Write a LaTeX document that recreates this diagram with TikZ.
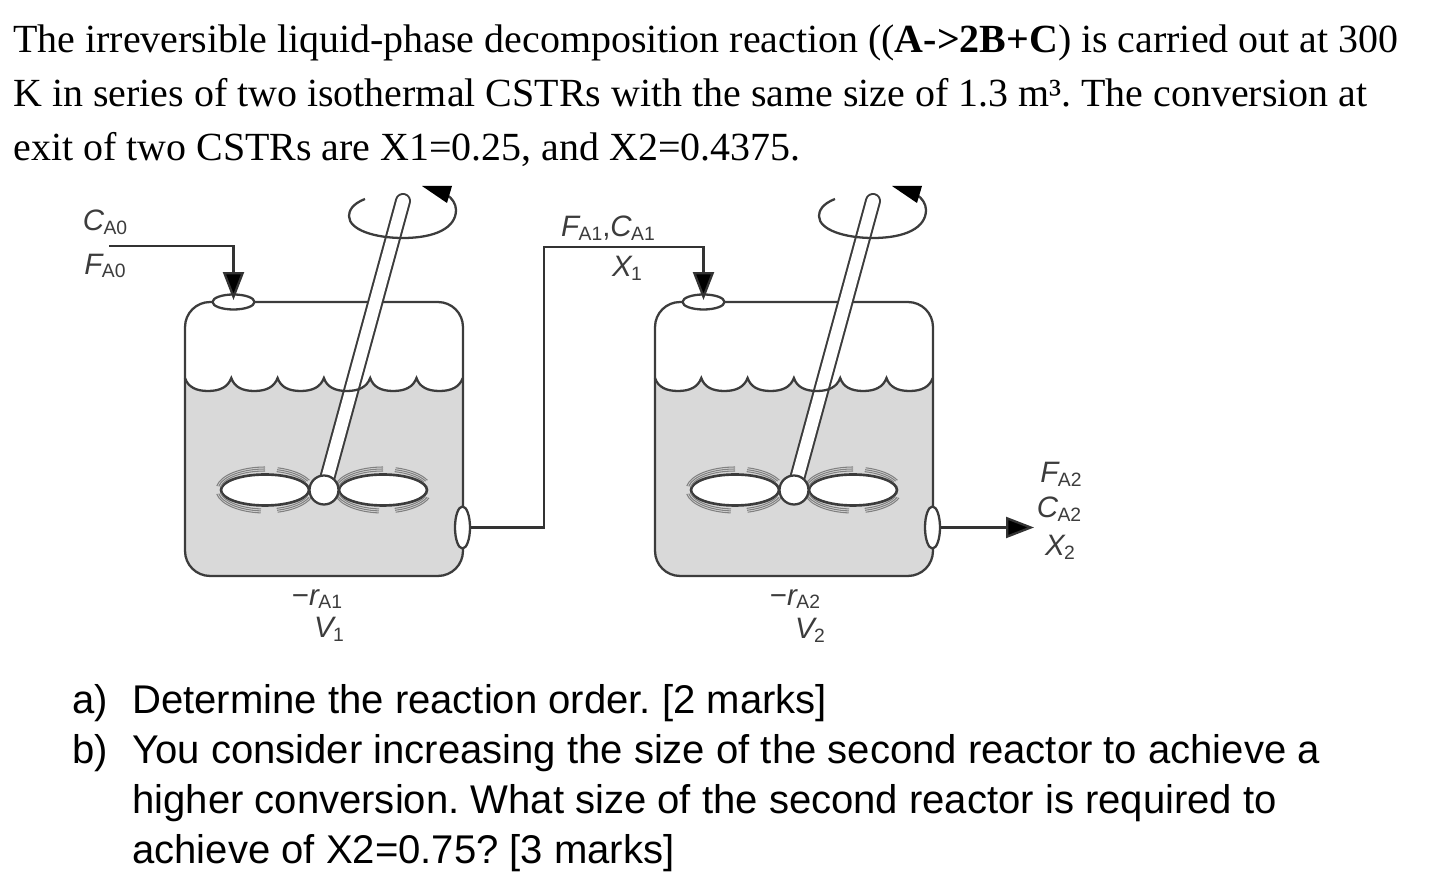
\documentclass[tikz,border=0pt]{standalone}
\usepackage{fontspec}
\setmainfont{Liberation Serif}
\setsansfont{Liberation Sans}
\usetikzlibrary{shapes.geometric,arrows.meta}
\definecolor{inkgray}{HTML}{3C3C3C}
\definecolor{liquidgray}{HTML}{D9D9D9}
\newcommand{\flowsub}[2]{{\itshape #1}\kern-.02em\raisebox{-.13em}{\fontsize{11pt}{11pt}\selectfont #2}}
\frenchspacing
\begin{document}
\begin{tikzpicture}[x=.02cm,y=-.02cm]
\tikzstyle{every node} = [inner sep=0pt]
\tikzstyle{serifline} = [anchor=base west, font=\fontsize{22.73pt}{26pt}\selectfont]
\tikzstyle{sansline} = [anchor=base west, font=\sffamily\fontsize{22.8pt}{26pt}\selectfont]
\tikzstyle{flowlabel} = [text=inkgray, font=\sffamily\fontsize{16.8pt}{20pt}\selectfont]
\tikzstyle{tankbox} = [rectangle, draw=inkgray, line width=1.3pt, rounded corners=.5cm, minimum width=5.56cm, minimum height=5.48cm]
\tikzstyle{port} = [ellipse, draw=inkgray, line width=1.3pt, fill=white]
\tikzstyle{lobe} = [ellipse, draw=inkgray, line width=1.5pt, fill=white, minimum width=1.76cm, minimum height=.62cm]
\tikzstyle{hub} = [circle, draw=inkgray, line width=1.3pt, fill=white, minimum size=.58cm]
\tikzstyle{sweep} = [draw=gray, line width=.6pt]
\tikzstyle{flow} = [draw=black!80, line width=1.3pt, -{Triangle[length=.56cm,width=.42cm,fill=black]}]
\useasboundingbox (0,0) rectangle (1434,884);
\node[serifline] (line1) at (13,53) {The irreversible liquid-phase decomposition reaction ((\textbf{A->2B+C}) is carried out at 300};
\node[serifline] (line2) at (13,107) {K in series of two isothermal CSTRs with the same size of 1.3 m³. The conversion at};
\node[serifline] (line3) at (13,161) {exit of two CSTRs are X1=0.25, and X2=0.4375.};
\foreach \n/\dx in {1/0,2/470}{
\begin{scope}[shift={(\dx,0)}]
\fill[liquidgray] (185,378) foreach \k in {0,...,5} { .. controls ({185+46.3*\k+3},387) and ({185+46.3*\k+11},391) .. ({185+46.3*\k+23},391) .. controls ({185+46.3*\k+35},391) and ({185+46.3*\k+43},387) .. ({185+46.3*(\k+1)},378) } [rounded corners=.5cm] -- (463,576) -- (185,576) -- (185,378);
\node[tankbox] (tank\n) at (324,439) {};
\draw[line width=.32cm, line cap=round, inkgray] (324,490) -- (403,201);
\draw[line width=.24cm, line cap=round, white] (324,490) -- (403,201);
\draw[inkgray, line width=1.3pt] (185,378) foreach \k in {0,...,5} { .. controls ({185+46.3*\k+3},387) and ({185+46.3*\k+11},391) .. ({185+46.3*\k+23},391) .. controls ({185+46.3*\k+35},391) and ({185+46.3*\k+43},387) .. ({185+46.3*(\k+1)},378) };
\draw[inkgray, line width=1.3pt] (365,199) .. controls (352,204) and (349,211) .. (349,216) .. controls (349,230) and (375,238) .. (403,238) .. controls (435,238) and (456,228) .. (456,210) .. controls (456,204) and (452,198) .. (447,195);
\fill[black] (422,186) -- (452,186) -- (447,203) -- cycle;
\node[lobe] (lobeL\n) at (265,490) {};
\node[lobe] (lobeR\n) at (383,490) {};
\foreach \lobename in {lobeL\n,lobeR\n}
\foreach \rx/\ry in {.9/.38,.94/.42,.98/.46}
\foreach \from/\to in {25/75,90/170,190/265,285/340}
\draw[sweep] (\lobename.center) ++(\from:\rx cm and \ry cm) arc[start angle=\from,end angle=\to,x radius=\rx cm,y radius=\ry cm];
\node[hub] (hub\n) at (324,490) {};
\node[port, minimum width=.84cm, minimum height=.3cm] (in\n) at (233.5,302) {};
\node[port, minimum width=.3cm, minimum height=.84cm] (out\n) at (462.5,527.5) {};
\end{scope}
}
\coordinate (feed) at (109,246);
\coordinate (riser) at (544,247);
\coordinate (drain) at (1034,527.5);
\draw[flow, shorten >=.04cm] (feed) -| (in1.center);
\draw[flow, shorten >=.04cm] (out1.east) -| (riser) -| (in2.center);
\draw[flow] (out2.east) -- (drain);
\node[flowlabel] (ca0) at (105,222) {\flowsub{C}{A0}};
\node[flowlabel] (fa0) at (105,266) {\flowsub{F}{A0}};
\node[flowlabel] (fca1) at (608,228) {\flowsub{F}{A1},\flowsub{C}{A1}};
\node[flowlabel] (x1) at (627,268) {\flowsub{X}{1}};
\node[flowlabel] (ra1) at (317,599) {\textminus\flowsub{r}{A1}};
\node[flowlabel] (v1) at (329,629) {\flowsub{V}{1}};
\node[flowlabel] (ra2) at (795,599) {\textminus\flowsub{r}{A2}};
\node[flowlabel] (v2) at (810,630) {\flowsub{V}{2}};
\node[flowlabel] (fa2) at (1061,474) {\flowsub{F}{A2}};
\node[flowlabel] (ca2) at (1059,509) {\flowsub{C}{A2}};
\node[flowlabel] (x2) at (1060,547) {\flowsub{X}{2}};
\node[sansline] (marka) at (72,714) {a)};
\node[sansline] (parta) at (132,714) {Determine the reaction order. [2 marks]};
\node[sansline] (markb) at (72,764) {b)};
\node[sansline] (partb1) at (132,764) {You consider increasing the size of the second reactor to achieve a};
\node[sansline] (partb2) at (132,814) {higher conversion. What size of the second reactor is required to};
\node[sansline] (partb3) at (132,864) {achieve of X2=0.75? [3 marks]};
\end{tikzpicture}
\end{document}
